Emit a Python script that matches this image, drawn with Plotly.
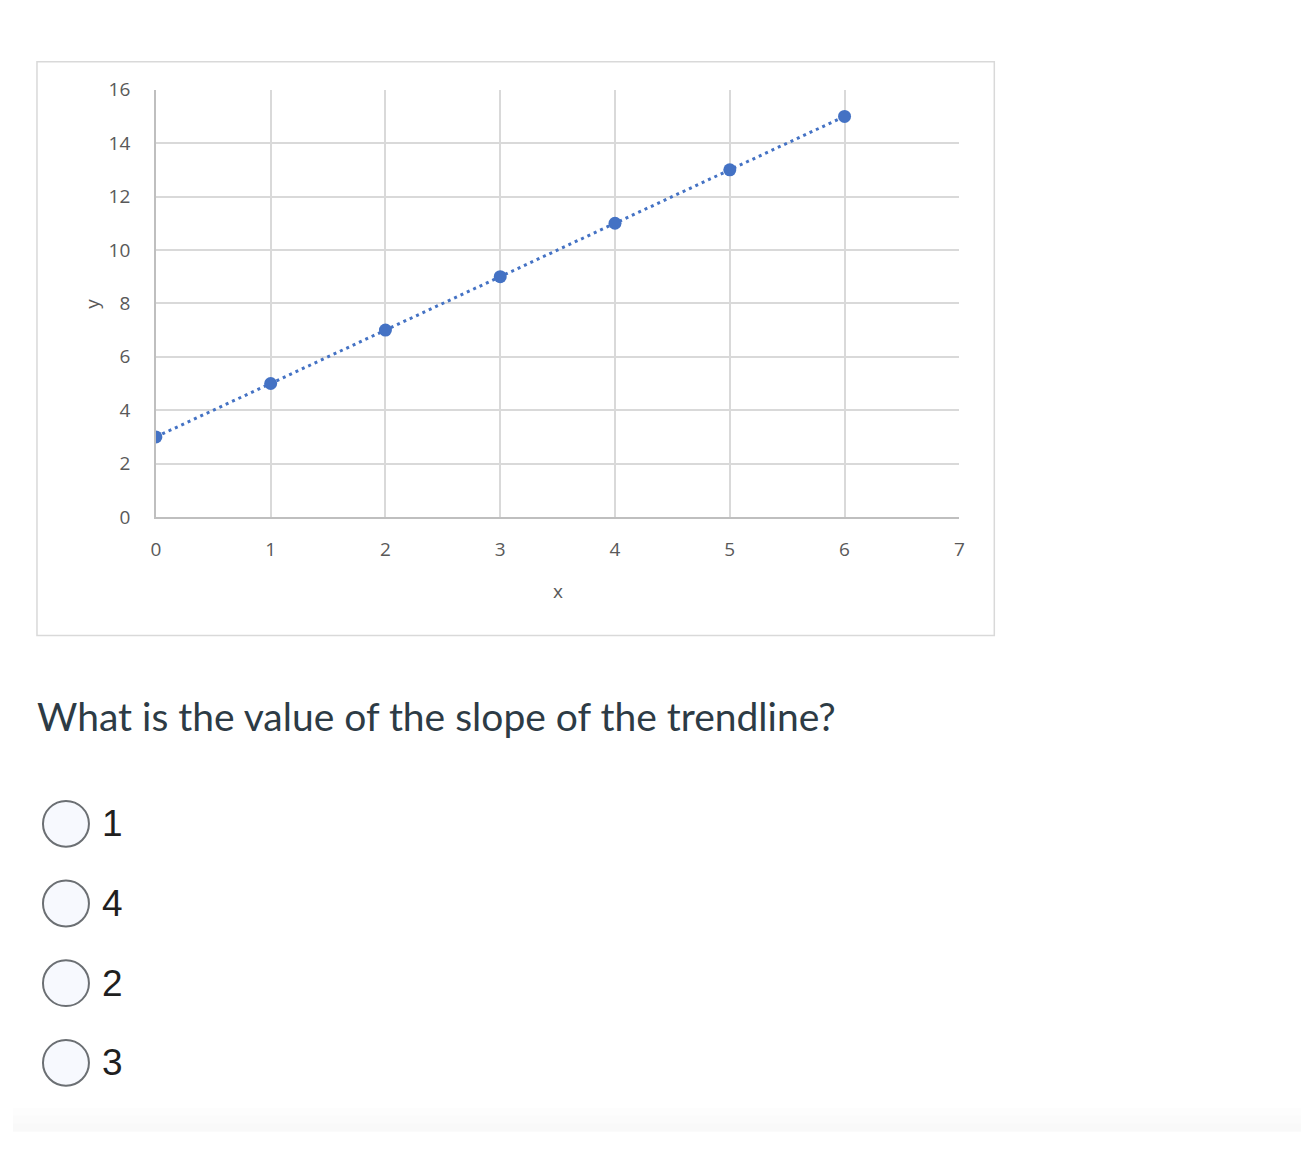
import numpy as np
import plotly.graph_objects as go

# data
x_values = [0, 1, 2, 3, 4, 5, 6]
y_values = [3, 5, 7, 9, 11, 13, 15]
x_ticks = [0, 1, 2, 3, 4, 5, 6, 7]
y_ticks = [0, 2, 4, 6, 8, 10, 12, 14, 16]
question = "What is the value of the slope of the trendline?"
choices = ["1", "4", "2", "3"]

W, H = 1298, 1136
# how the figure lands on the screenshot (measured from a test render)
SX, OX = 0.993, 12.0
SY, OY = 0.981, 19.0
BLUE = "#4472C4"
GRID = "#d9d9d9"
TICK = "#595959"


def px(x):
    # screen pixel -> paper x
    return (x - OX) / SX / W


def py(y):
    # screen pixel -> paper y
    return 1 - (y - OY) / SY / H


# linear trendline like excel does it
slope, intercept = np.polyfit(x_values, y_values, 1)
trend_x = [min(x_values), max(x_values)]
trend_y = [slope * v + intercept for v in trend_x]

fig = go.Figure()
fig.add_trace(go.Scatter(x=trend_x, y=trend_y, mode="lines",
                         line=dict(color=BLUE, width=3, dash="3px,4px"),
                         hoverinfo="skip", showlegend=False))
fig.add_trace(go.Scatter(x=x_values, y=y_values, mode="markers",
                         marker=dict(color=BLUE, size=13),
                         showlegend=False))

axis_common = dict(
    showgrid=True,
    gridcolor=GRID,
    gridwidth=1.5,
    zeroline=False,
    showline=True,
    linecolor="#bfbfbf",
    linewidth=1.5,
    ticks="",
    tickfont=dict(family="Open Sans", size=19, color=TICK),
    fixedrange=True,
)

fig.update_layout(
    width=W,
    height=H,
    margin=dict(l=0, r=0, t=0, b=0),
    paper_bgcolor="white",
    plot_bgcolor="white",
    xaxis=dict(axis_common, domain=[px(155), px(959)], range=[0, 7],
               tickvals=x_ticks, ticklabelstandoff=14),
    yaxis=dict(axis_common, domain=[py(517), py(88)], range=[0, 16],
               tickvals=y_ticks, ticklabelstandoff=20),
)

# chart frame
fig.add_shape(type="rect", xref="paper", yref="paper",
              x0=px(36), x1=px(994), y0=py(636), y1=py(60),
              line=dict(color=GRID, width=1.5), layer="below")

# axis titles
fig.add_annotation(text="x", xref="paper", yref="paper", x=px(557), y=py(591),
                   xanchor="center", yanchor="middle", showarrow=False,
                   font=dict(family="Open Sans", size=19, color=TICK))
fig.add_annotation(text="y", xref="paper", yref="paper", x=px(91), y=py(303),
                   xanchor="center", yanchor="middle", showarrow=False, textangle=-90,
                   font=dict(family="Open Sans", size=19, color=TICK))

# question text
fig.add_annotation(text=question, xref="paper", yref="paper", x=px(34), y=py(717),
                   xanchor="left", yanchor="middle", showarrow=False,
                   font=dict(family="Lato", size=39, color="#2d3b45"))

# radio buttons
for i, c in enumerate(choices):
    cy = 825 + i * 80
    fig.add_shape(type="circle", xref="paper", yref="paper",
                  x0=px(42), x1=px(88), y0=py(cy + 23), y1=py(cy - 23),
                  line=dict(color="#6b6f73", width=2), fillcolor="#f7f9fe")
    fig.add_annotation(text=c, xref="paper", yref="paper", x=px(99), y=py(cy),
                       xanchor="left", yanchor="middle", showarrow=False,
                       font=dict(family="Liberation Sans", size=37, color="#1f1f1f"))

# faint grey fade at the bottom of the page
for i, shade in enumerate(["#fdfdfd", "#fbfbfb", "#f9f9f9", "#f7f7f7"]):
    fig.add_shape(type="rect", xref="paper", yref="paper",
                  x0=0, x1=1, y0=0, y1=py(1110 + i * 8),
                  line=dict(width=0), fillcolor=shade, layer="below")

fig.write_html("out.html")
